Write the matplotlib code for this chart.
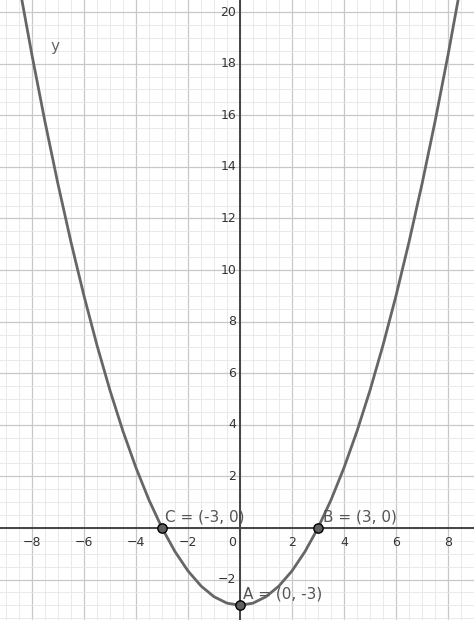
import matplotlib
matplotlib.use("Agg")
import matplotlib.pyplot as plt

# parabola through A, B, C
curve_x = [-8.5, -8, -7.5, -7, -6.5, -6, -5.5, -5, -4.5, -4, -3.5, -3, -2.5, -2, -1.5, -1, -0.5, 0,
           0.5, 1, 1.5, 2, 2.5, 3, 3.5, 4, 4.5, 5, 5.5, 6, 6.5, 7, 7.5, 8, 8.5]
curve_y = [21.083, 18.333, 15.75, 13.333, 11.083, 9, 7.083, 5.333, 3.75, 2.333, 1.083, 0, -0.917,
           -1.667, -2.25, -2.667, -2.917, -3,
           -2.917, -2.667, -2.25, -1.667, -0.917, 0, 1.083, 2.333, 3.75, 5.333, 7.083, 9, 11.083,
           13.333, 15.75, 18.333, 21.083]
pt_names = ["A = (0, -3)", "B = (3, 0)", "C = (-3, 0)"]
pt_x = [0, 3, -3]
pt_y = [-3, 0, 0]
xticks = [-8, -6, -4, -2, 2, 4, 6, 8]
yticks = [-2, 2, 4, 6, 8, 10, 12, 14, 16, 18, 20]

fig = plt.figure(figsize=(4.74, 6.2), dpi=100)
ax = fig.add_axes([0, 0, 1, 1])
ax.set_xlim(-9.23, 9.0)
ax.set_ylim(-3.57, 20.47)
for s in ax.spines.values():
    s.set_visible(False)
ax.set_xticks([])
ax.set_yticks([])

# grid
v = -9.0
while v <= 9.0:
    major = abs(v / 2 - round(v / 2)) < 1e-9
    ax.axvline(v, color="#c8c8c8" if major else "#e6e6e6", lw=0.9 if major else 0.6, zorder=0)
    v += 0.5
v = -3.5
while v <= 20.5:
    major = abs(v / 2 - round(v / 2)) < 1e-9
    ax.axhline(v, color="#c8c8c8" if major else "#e6e6e6", lw=0.9 if major else 0.6, zorder=0)
    v += 0.5

ax.axhline(0, color="#444444", lw=1.4, zorder=1)
ax.axvline(0, color="#444444", lw=1.4, zorder=1)


def lab(t):
    return str(t).replace("-", "\u2212")


for t in xticks:
    ax.text(t, -0.3, lab(t), ha="center", va="top", fontsize=9, color="#333333")
for t in yticks:
    ax.text(-0.15, t, lab(t), ha="right", va="center", fontsize=9, color="#333333")
ax.text(-0.15, -0.3, "0", ha="right", va="top", fontsize=9, color="#333333")

ax.plot(curve_x, curve_y, color="#666666", lw=2.0, zorder=2)
ax.text(-7.3, 18.5, "y", fontsize=11, color="#666666")

ax.scatter(pt_x, pt_y, s=45, color="#606060", edgecolor="black", lw=1, zorder=4)
offsets = {"A = (0, -3)": (0.1, 0.25), "B = (3, 0)": (0.2, 0.25), "C = (-3, 0)": (0.1, 0.25)}
for n, x, y in zip(pt_names, pt_x, pt_y):
    dx, dy = offsets[n]
    ax.text(x + dx, y + dy, n, fontsize=11, color="#555555", zorder=5)

fig.savefig("out.png", dpi=100)
